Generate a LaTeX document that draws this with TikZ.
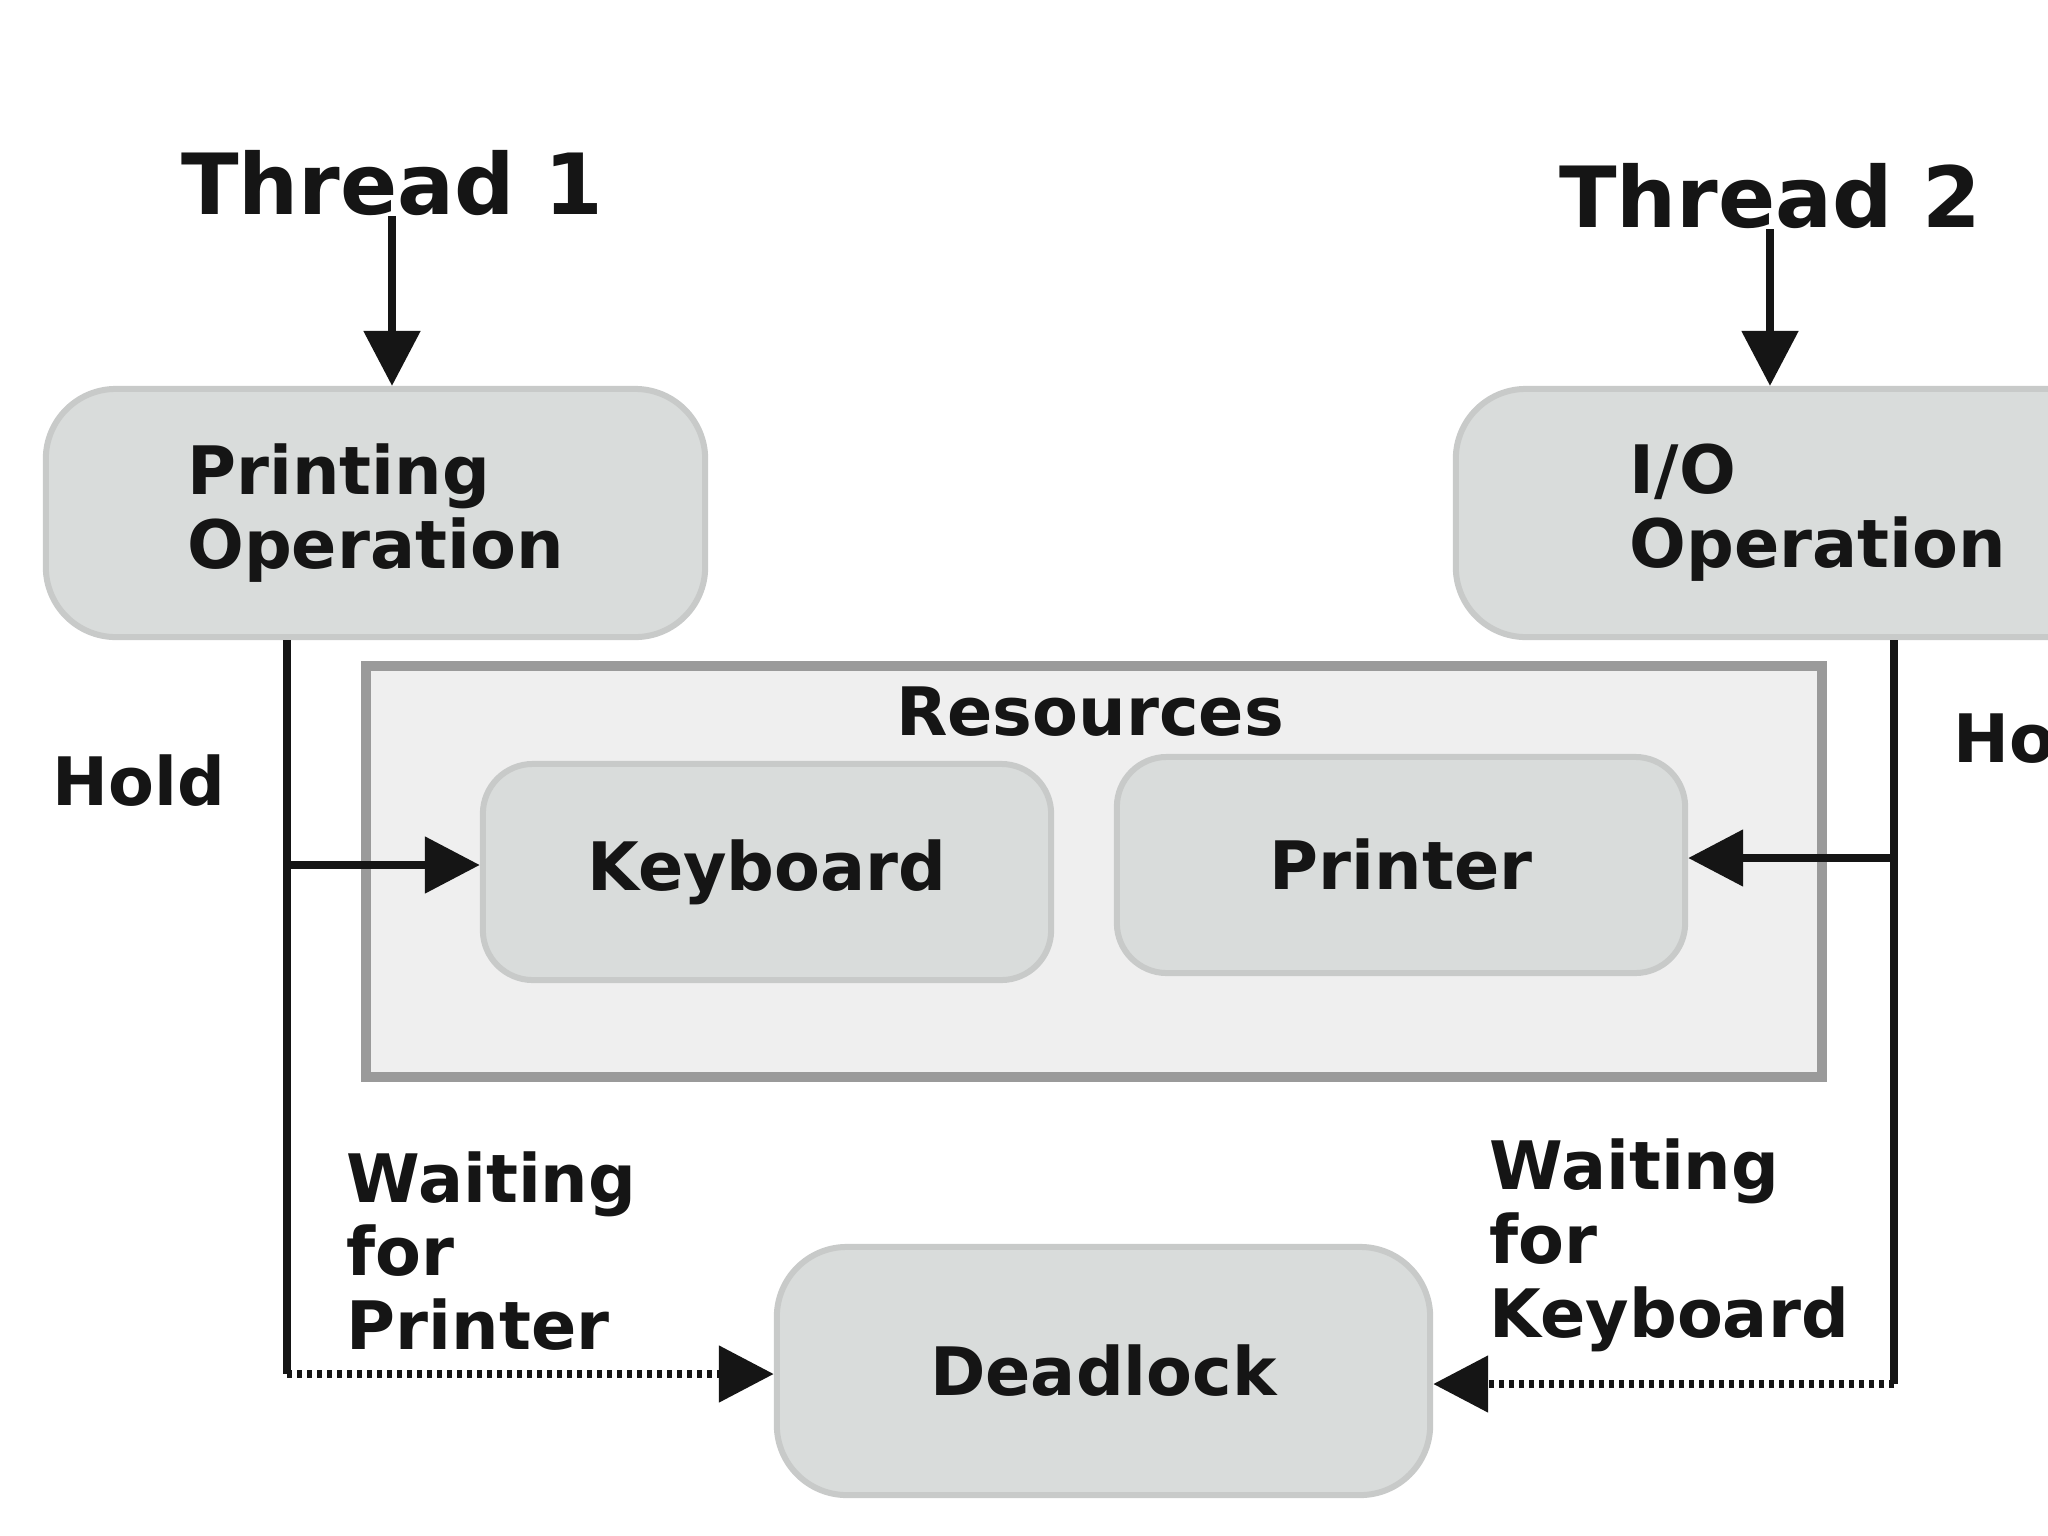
\documentclass[tikz,border=0pt]{standalone}
\usepackage{fontspec}
\setmainfont{DejaVu Sans}
\usetikzlibrary{arrows.meta}
\definecolor{boxfill}{HTML}{D9DCDB}
\definecolor{boxedge}{HTML}{C8CAC9}
\definecolor{resfill}{HTML}{EFEFEF}
\definecolor{resedge}{HTML}{9A9A9A}
\definecolor{ink}{HTML}{151515}
\tikzset{
  txt/.style={font=\bfseries\fontsize{19}{21}\selectfont, text=ink, align=left},
  thr/.style={font=\bfseries\fontsize{24}{28}\selectfont, text=ink, inner sep=0pt},
  opbox/.style={txt, draw=boxedge, fill=boxfill, line width=0.6mm, rounded corners=0.7cm},
  devbox/.style={txt, draw=boxedge, fill=boxfill, line width=0.6mm, rounded corners=0.5cm,
                 minimum width=5.68cm, minimum height=2.16cm},
  resbox/.style={draw=resedge, fill=resfill, line width=1mm},
  lbl/.style={txt, inner sep=0pt},
  conn/.style={draw=ink, line width=0.85mm},
  arr/.style={conn, -{Triangle[length=5.5mm,width=5.5mm]}},
  dotarr/.style={arr, dash pattern=on 0.5mm off 0.5mm}
}
\begin{document}
\begin{tikzpicture}[x=0.01cm,y=-0.01cm]
\useasboundingbox (0,0) rectangle (2048,1536);
\clip (0,0) rectangle (2048,1536);
\fill[white] (0,0) rectangle (2048,1536);
% threads
\node[thr] (t1) at (392,183) {Thread 1};
\node[thr] (t2) at (1770,196) {Thread 2};
% operations
\node[opbox, minimum width=6.59cm, minimum height=2.48cm] (pop) at (375.5,513) {Printing\\Operation};
\node[opbox, minimum width=7.24cm, minimum height=2.48cm] (io) at (1818,513) {I/O\\Operation};
% resources
\node[resbox, minimum width=14.56cm, minimum height=4.11cm] (res) at (1094,871.5) {};
\node[lbl] (rest) at (1090,712) {Resources};
\node[devbox] (kb) at (767,872) {Keyboard};
\node[devbox] (pr) at (1401,865) {Printer};
% deadlock
\node[opbox, minimum width=6.53cm, minimum height=2.48cm] (dl) at (1103.5,1371) {Deadlock};
% labels
\node[lbl, anchor=west] (holdl) at (52,781) {Hold};
\node[lbl, anchor=west] (holdr) at (1953,738) {Hold};
\node[lbl, anchor=west] (wp) at (346,1251) {Waiting\\for\\Printer};
\node[lbl, anchor=west] (wk) at (1489,1245) {Waiting\\for\\Keyboard};
% corner coordinates
\coordinate (L1) at (287,865);
\coordinate (L2) at (287,1374);
\coordinate (R1) at (1894,858);
\coordinate (R2) at (1894,1384);
% connectors
\draw[arr] (t1.south) -- (t1.south |- pop.north);
\draw[arr] (t2.south) -- (t2.south |- io.north);
\draw[conn] (pop.south -| L1) -- (L2);
\draw[arr] (L1) -- (L1 -| kb.west);
\draw[conn] (io.south -| R1) -- (R2);
\draw[arr] (R1) -- (R1 -| pr.east);
\draw[dotarr] (L2) -- (L2 -| dl.west);
\draw[dotarr] (R2) -- (R2 -| dl.east);
\end{tikzpicture}
\end{document}
